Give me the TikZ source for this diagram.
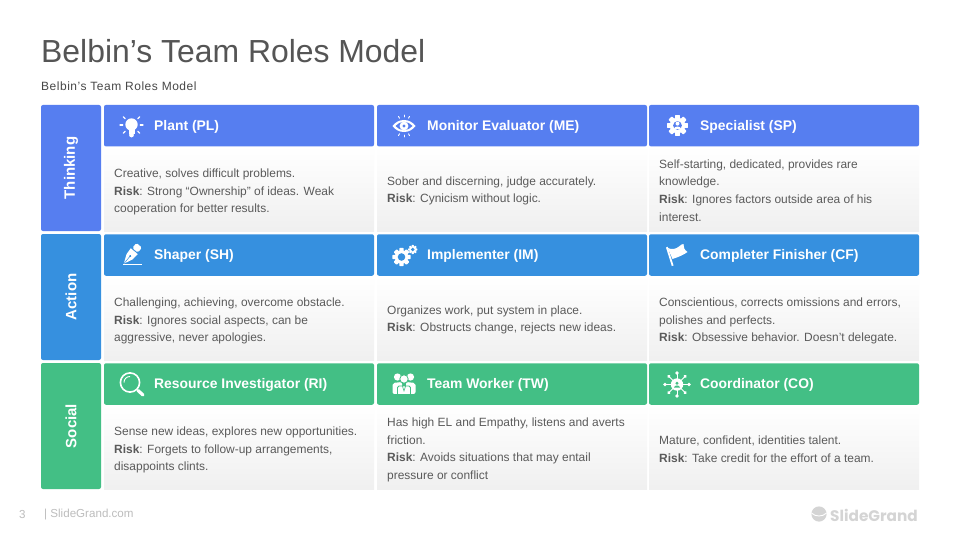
\documentclass[tikz,border=0pt]{standalone}
\usepackage{fontspec}
\setmainfont{Liberation Sans}
\newfontfamily\logofont{Poppins}
\definecolor{thinkc}{HTML}{567EF0}
\definecolor{actc}{HTML}{3690DF}
\definecolor{socc}{HTML}{43BF85}
\definecolor{bodytxt}{HTML}{5A5A5A}
\definecolor{titletxt}{HTML}{555555}
\definecolor{footc}{HTML}{BDBDBD}
\definecolor{logoc}{HTML}{D4D4D4}
\tikzset{
  x=1pt,y=-1pt,
  sidetab/.style={fill=#1,rounded corners=2pt,minimum width=60pt,minimum height=126pt,inner sep=0,text=white,font=\bfseries\fontsize{15}{16}\selectfont},
  headbar/.style={fill=#1,rounded corners=2pt,minimum width=270pt,minimum height=41.5pt,inner sep=0},
  headtxt/.style={anchor=west,inner sep=0,text=white,font=\bfseries\fontsize{13.9}{16}\selectfont},
  bodybox/.style={rectangle,minimum width=270pt,minimum height=#1,inner sep=0,top color=white,middle color=white,bottom color=black!6},
  bodytext/.style={anchor=west,inner sep=0,align=left,text=bodytxt,font=\fontsize{11.95}{17.6}\selectfont},
  ic/.style={fill=white,draw=none},
  icl/.style={draw=white,line width=1.1pt,line cap=round},
}
\newcommand{\iconbulb}[2]{\begin{scope}[shift={(#1,#2)}]
 \foreach \a in {0,45,135,180,225,-45,-90}{\draw[icl,rotate=\a] (8.7,0)--(11.5,0);}
 \fill[ic] (0,-0.5) circle (6.2);
 \fill[ic] (-3,2) rectangle (3,9);
 \fill[ic] (0,10) circle (2.4);
\end{scope}}
\newcommand{\icongear}[4]{\begin{scope}[shift={(#1,#2)},scale=#3]
 \foreach \a in {0,45,...,315}{\fill[ic,rotate=\a,rounded corners=.6pt] (-2.6,-11)rectangle(2.6,-6);}
 \fill[ic] (0,0) circle (8.2);
 \fill[#4] (0,0) circle (4.6);
\end{scope}}
\begin{document}
\begin{tikzpicture}
\useasboundingbox (0,0) rectangle (960,540);
\fill[white] (0,0) rectangle (960,540);
\node[anchor=west,inner sep=0,text=titletxt,font=\fontsize{31.9}{36}\selectfont] (title) at (41,51) {Belbin’s Team Roles Model};
\node[anchor=west,inner sep=0,text=bodytxt!80!black,font=\fontsize{12}{14}\selectfont\addfontfeature{LetterSpace=4.3}] (sub) at (41,86) {Belbin’s Team Roles Model};

\node[sidetab=thinkc] (t1) at (71,168) {\rotatebox{90}{Thinking}};
\node[sidetab=actc] (t2) at (71,297) {\rotatebox{90}{Action}};
\node[sidetab=socc] (t3) at (71,426) {\rotatebox{90}{Social}};

% bodies
\node[bodybox=85pt] (b11) at (239,188.5) {};
\node[bodybox=85pt] (b12) at (512,188.5) {};
\node[bodybox=85pt] (b13) at (784,188.5) {};
\node[bodybox=84pt] (b21) at (239,318) {};
\node[bodybox=84pt] (b22) at (512,318) {};
\node[bodybox=84pt] (b23) at (784,318) {};
\node[bodybox=84pt] (b31) at (239,447) {};
\node[bodybox=84pt] (b32) at (512,447) {};
\node[bodybox=84pt] (b33) at (784,447) {};
% headers
\node[headbar=thinkc] (h11) at (239,125.7) {};
\node[headbar=thinkc] (h12) at (512,125.7) {};
\node[headbar=thinkc] (h13) at (784,125.7) {};
\node[headbar=actc] (h21) at (239,255) {};
\node[headbar=actc] (h22) at (512,255) {};
\node[headbar=actc] (h23) at (784,255) {};
\node[headbar=socc] (h31) at (239,384) {};
\node[headbar=socc] (h32) at (512,384) {};
\node[headbar=socc] (h33) at (784,384) {};

\node[headtxt] (l11) at (154,127) {Plant (PL)};
\node[headtxt] (l12) at (427,127) {Monitor Evaluator (ME)};
\node[headtxt] (l13) at (700,127) {Specialist (SP)};
\node[headtxt] (l21) at (154,256) {Shaper (SH)};
\node[headtxt] (l22) at (427,256) {Implementer (IM)};
\node[headtxt] (l23) at (700,256) {Completer Finisher (CF)};
\node[headtxt] (l31) at (154,385) {Resource Investigator (RI)};
\node[headtxt] (l32) at (427,385) {Team Worker (TW)};
\node[headtxt] (l33) at (700,385) {Coordinator (CO)};

\node[bodytext] (x11) at (114,192) {Creative, solves difficult problems.\\\textbf{Risk}: Strong “Ownership” of ideas. Weak\\cooperation for better results.};
\node[bodytext] (x12) at (387,191) {Sober and discerning, judge accurately.\\\textbf{Risk}: Cynicism without logic.};
\node[bodytext] (x13) at (659,190.5) {Self-starting, dedicated, provides rare\\knowledge.\\\textbf{Risk}: Ignores factors outside area of his\\interest.};
\node[bodytext] (x21) at (114,321) {Challenging, achieving, overcome obstacle.\\\textbf{Risk}: Ignores social aspects, can be\\aggressive, never apologies.};
\node[bodytext] (x22) at (387,320) {Organizes work, put system in place.\\\textbf{Risk}: Obstructs change, rejects new ideas.};
\node[bodytext] (x23) at (659,321) {Conscientious, corrects omissions and errors,\\polishes and perfects.\\\textbf{Risk}: Obsessive behavior. Doesn’t delegate.};
\node[bodytext] (x31) at (114,450) {Sense new ideas, explores new opportunities.\\\textbf{Risk}: Forgets to follow-up arrangements,\\disappoints clints.};
\node[bodytext] (x32) at (387,450) {Has high EL and Empathy, listens and averts\\friction.\\\textbf{Risk}: Avoids situations that may entail\\pressure or conflict};
\node[bodytext] (x33) at (659,449.5) {Mature, confident, identities talent.\\\textbf{Risk}: Take credit for the effort of a team.};

% icons
\iconbulb{131.5}{125}
% eye
\begin{scope}[shift={(404,126)}]
 \fill[ic] (-11.5,0) .. controls (-6,-8) and (6,-8) .. (11.5,0) .. controls (6,8) and (-6,8) .. (-11.5,0) -- cycle;
 \fill[thinkc] (-8.5,0) .. controls (-4,-5.5) and (4,-5.5) .. (8.5,0) .. controls (4,5.5) and (-4,5.5) .. (-8.5,0) -- cycle;
 \fill[ic] (0,0) circle (4.4);
 \fill[thinkc] (0,0) circle (1.6);
 \foreach \a in {-30,0,30}{\draw[icl,line width=.9pt,rotate=\a] (0,-9)--(0,-11); \draw[icl,line width=.9pt,rotate=\a] (0,9)--(0,11);}
\end{scope}
% specialist gear
\icongear{677.5}{125.5}{.95}{thinkc}
\fill[ic] (677.5,123.6) circle (2);
\fill[ic] (673.8,129.2) .. controls (674,125.6) and (681,125.6) .. (681.2,129.2) -- cycle;
% pen
\begin{scope}[shift={(131.5,254.5)},rotate=-40]
 \fill[ic,rounded corners=1.5pt] (-3.6,-12) rectangle (3.6,-5.5);
 \fill[ic] (-4.6,-4.3) -- (4.6,-4.3) -- (4,3) -- (0,12) -- (-4,3) -- cycle;
 \fill[actc] (0,2) circle (1.1);
 \draw[actc,line width=.5pt] (0,2) -- (0,12);
\end{scope}
\draw[white,line width=.4pt] (123,264.5) -- (141.5,264.5);
% implementer gears
\icongear{401.5}{257}{.82}{actc}
\icongear{412.8}{249.5}{.42}{actc}
% flag
\begin{scope}[shift={(677,255)}]
 \fill[ic] (-11,-7.5) -- (-9.3,-8.2) -- (-3.5,10.5) -- (-5.2,11) -- cycle;
 \fill[ic] (-9.3,-7) .. controls (-5,-5) and (-1,-6) .. (2,-8.5) .. controls (3.5,-10) and (5,-11) .. (6.5,-11) .. controls (6.5,-7.5) and (7,-5.5) .. (10.5,-3) .. controls (7,-0.5) and (3,1.5) .. (-4.5,4) -- cycle;
\end{scope}
% magnifier
\begin{scope}[shift={(131,384)}]
 \draw[white,line width=1.6pt] (-1,-1.5) circle (9.6);
 \draw[white,line width=3.2pt,line cap=round] (7,6.5) -- (12,11);
 \draw[white,line width=.9pt] (-7,-1.5) .. controls (-7,-5) and (-4.5,-7.5) .. (-1,-7.5);
\end{scope}
% team
\begin{scope}[shift={(404,384)}]
 \fill[ic] (-6.5,-7) circle (3.6);
 \fill[ic] (6.5,-7) circle (3.6);
 \fill[ic,rounded corners=2pt] (-11.5,10) -- (-11.5,-1) -- (-2,-2) -- (-2,10) -- cycle;
 \fill[ic,rounded corners=2pt] (11.5,10) -- (11.5,-1) -- (2,-2) -- (2,10) -- cycle;
 \draw[socc,line width=.8pt,fill=white] (0,-5) circle (4.2);
 \draw[socc,line width=.8pt,fill=white,rounded corners=1.5pt] (-6.5,11.5) -- (-6.5,2) -- (6.5,2) -- (6.5,11.5) -- cycle;
 \draw[socc,line width=.6pt] (-1.6,2) -- (0,7) -- (1.6,2);
 \fill[socc] (-12,10.2) rectangle (12,12);
\end{scope}
% coordinator
\begin{scope}[shift={(677,384.5)}]
 \foreach \a/\r in {0/12,45/11.5,90/11.5,135/11.5,180/12,225/11.5,270/11.5,315/11.5}{
   \draw[white,line width=.9pt,rotate=\a] (0,0) -- (\r,0);
   \fill[ic,rotate=\a] (\r,0) circle (1.8);}
 \fill[ic] (0,0) circle (6.2);
 \fill[socc] (0,-1.2) circle (1.6);
 \fill[socc] (-3,3) .. controls (-2.6,0.3) and (2.6,0.3) .. (3,3) -- cycle;
\end{scope}

% footer
\node[anchor=west,inner sep=0,text=footc,font=\fontsize{11.6}{13}\selectfont] (pg) at (19,515) {3};
\node[anchor=west,inner sep=0,text=footc,font=\fontsize{11.6}{13}\selectfont] (ft) at (44,515) {| SlideGrand.com};
% logo
\fill[logoc] (819,514) circle (7.6);
\draw[white,line width=.9pt] (811.5,513) .. controls (815,517) and (823,517) .. (826.5,513);
\node[anchor=west,inner sep=0,text=logoc,font=\logofont\bfseries\fontsize{15.3}{17}\selectfont] (lg) at (830,515) {SlideGrand};
\end{tikzpicture}
\end{document}
